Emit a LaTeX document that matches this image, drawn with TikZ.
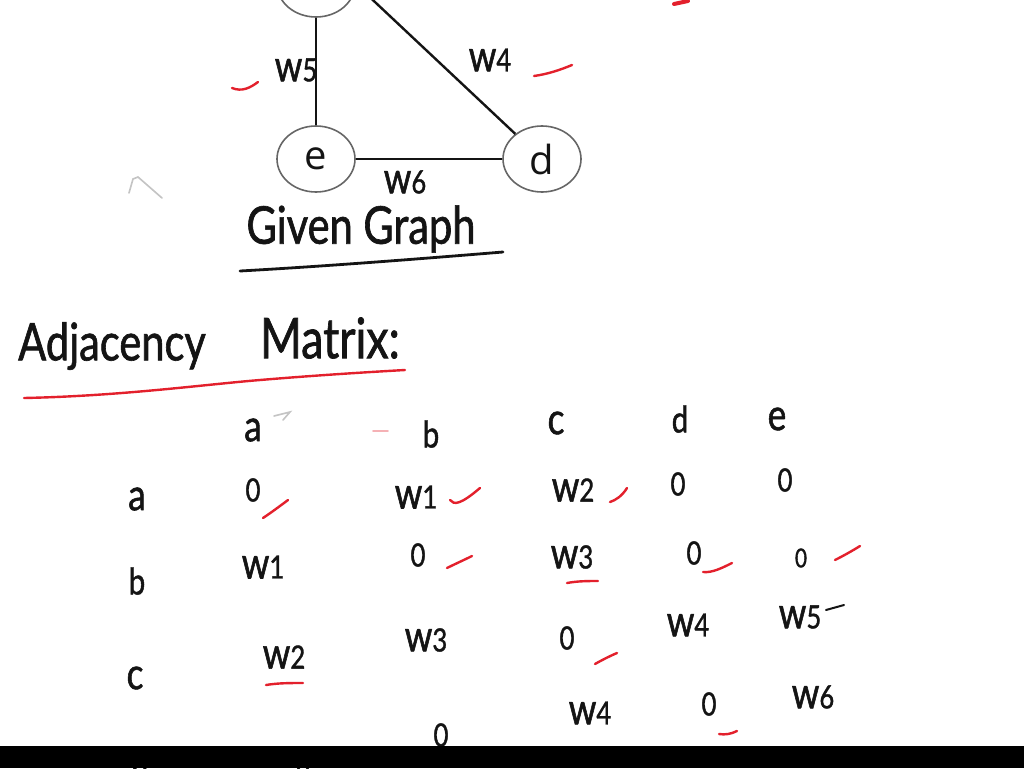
\documentclass[tikz,border=0pt]{standalone}
\usepackage{fontspec}
\usetikzlibrary{shapes.geometric}
\newfontfamily\hand[FakeStretch=0.8, FakeBold=1.2]{Lato}
\newfontfamily\vsans{Open Sans}
\definecolor{inkred}{HTML}{E3202C}
\definecolor{ink}{HTML}{141414}
\definecolor{faint}{HTML}{C4C4C4}
\newcommand\hw{{\fontsize{44}{44}\selectfont w}}
\begin{document}
\begin{tikzpicture}[x=1pt,y=-1pt,
  vert/.style={draw=black!60, line width=1.6pt, ellipse, minimum width=78pt, minimum height=66pt, inner sep=0pt, text=ink, font=\vsans\fontsize{40}{40}\selectfont},
  edge/.style={draw=ink, line width=2.4pt},
  hand/.style={inner sep=0pt, text=ink, font=\hand\fontsize{32}{32}\selectfont},
  big/.style={hand, font=\hand\fontsize{44}{44}\selectfont},
  asc/.style={hand, font=\hand\fontsize{37}{37}\selectfont},
  title/.style={hand, font=\hand\fontsize{56}{56}\selectfont},
  atitle/.style={hand, font=\hand\fontsize{52}{56}\selectfont},
  gtitle/.style={hand, font=\hand\fontsize{52}{52}\selectfont},
  redmark/.style={draw=inkred, line width=2.4pt, line cap=round},
  inkmark/.style={draw=ink, line width=2.8pt, line cap=round},
  faintmark/.style={draw=faint, line width=1.6pt, line cap=round}]
\useasboundingbox (0,0) rectangle (1024,768);
\fill[white] (0,0) rectangle (1024,768);

% graph
\node[vert] (c) at (316,-16) {c};
\node[vert] (e) at (316,159) {e};
\node[vert] (d) at (542,159) {d};
\draw[edge] (c) -- (e);
\draw[edge] (c.east) -- (d);
\draw[edge] (e) -- (d);
\node[hand] (l5) at (296,70) {\hw5};
\node[hand] (l4) at (490,60) {\hw4};
\node[hand] (l6) at (405,182) {\hw6};

\node[gtitle] (gg) at (361,229) {Given Graph};
\draw[inkmark] (240,271) .. controls (330,266) and (430,258) .. (503,252);

% marks near graph
\draw[redmark] (232,88) .. controls (242,92) and (250,88) .. (258,82);
\draw[redmark] (534,76) .. controls (548,74) and (560,70) .. (572,65);
\draw[redmark, line width=4pt] (674,4) -- (688,1);
\draw[faintmark] (129,193) -- (133,179) -- (138,177) -- (162,198);

% title
\node[atitle] (adj) at (112,346) {Adjacency};
\node[title] (mat) at (330,338) {Matrix:};
\draw[redmark] (24,398) .. controls (120,396) and (200,385) .. (260,380) .. controls (320,375) and (370,372) .. (405,370);

% column headers
\node[big] (ha) at (253,430) {a};
\node[asc] (hb) at (431,434) {b};
\node[big] (hc) at (556,423) {c};
\node[asc] (hd) at (680,419) {d};
\node[big] (he) at (777,419) {e};
\draw[faintmark] (274,416) -- (290,412) -- (283,420);
\draw[draw=inkred!35, line width=1.6pt, line cap=round] (373,431) -- (388,431);

% row labels
\node[big] (ra) at (137,499) {a};
\node[asc] (rb) at (137,581) {b};
\node[big] (rc) at (135,678) {c};
\node[asc] (rd) at (140,768) {d};

% row a
\node[hand] (aa) at (253,490) {0};
\node[hand] (ab) at (416,497) {\hw1};
\node[hand] (ac) at (573,490) {\hw2};
\node[hand] (ad) at (678,484) {0};
\node[hand] (ae) at (785,480) {0};
% row b
\node[hand] (ba) at (263,567) {\hw1};
\node[hand] (bb) at (418,555) {0};
\node[hand] (bc) at (572,557) {\hw3};
\node[hand] (bd) at (694,553) {0};
\node[hand, font=\hand\fontsize{26}{26}\selectfont] (be) at (801,558) {0};
% row c
\node[hand] (ca) at (284,657) {\hw2};
\node[hand] (cb) at (426,640) {\hw3};
\node[hand] (cc) at (567,638) {0};
\node[hand] (cd) at (688,625) {\hw4};
\node[hand] (ce) at (800,617) {\hw5};
% row d
\node[hand] (da) at (303,762) {0};
\node[hand] (db) at (441,735) {0};
\node[hand] (dc) at (590,713) {\hw4};
\node[hand] (dd) at (709,704) {0};
\node[hand] (de) at (813,697) {\hw6};

% check marks
\draw[redmark] (263,518) .. controls (272,512) and (280,506) .. (288,500);
\draw[redmark] (450,500) .. controls (454,505) and (460,505) .. (480,488);
\draw[redmark] (610,502) .. controls (616,500) and (622,496) .. (627,488);
\draw[redmark] (447,568) .. controls (455,564) and (464,560) .. (472,556);
\draw[redmark] (567,583) .. controls (578,581) and (588,581) .. (598,581);
\draw[redmark] (703,572) .. controls (712,573) and (722,568) .. (732,563);
\draw[redmark] (835,560) .. controls (843,556) and (852,551) .. (860,546);
\draw[redmark] (595,664) .. controls (602,660) and (610,656) .. (617,653);
\draw[redmark] (266,685) .. controls (278,683) and (290,683) .. (303,683);
\draw[redmark] (719,734) .. controls (725,735) and (731,734) .. (737,731);
\draw[inkmark, line width=2pt] (826,610) -- (844,605);

% bottom bar
\fill[black] (0,746) rectangle (1024,768);
\end{tikzpicture}
\end{document}
